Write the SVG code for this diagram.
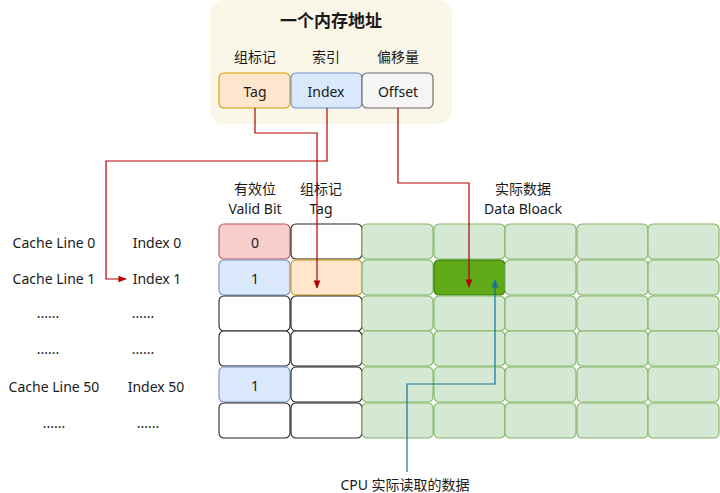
<svg xmlns="http://www.w3.org/2000/svg" width="720" height="493" viewBox="0 0 720 493">
<defs>
<style>
text{font-family:"Noto Sans","Noto Sans CJK SC",sans-serif;font-size:14px;fill:#1a1a1a;text-anchor:middle;dominant-baseline:central}
.t{font-weight:bold;font-size:17px}
.w{fill:#fff;stroke:#222;stroke-width:1.1}
.g{fill:#d5e8d4;stroke:#82b366;stroke-width:1.1}
.r{fill:none;stroke:#b20000;stroke-width:1.2}
.b{fill:none;stroke:#10739e;stroke-width:1.2}
</style>
<marker id="ar" viewBox="0 0 10 10" refX="9" refY="5" markerWidth="7" markerHeight="7" orient="auto"><path d="M0,1 L10,5 L0,9 Z" fill="#b20000"/></marker>
<marker id="ab" viewBox="0 0 10 10" refX="9" refY="5" markerWidth="7" markerHeight="7" orient="auto"><path d="M0,1 L10,5 L0,9 Z" fill="#10739e"/></marker>
</defs>
<rect width="720" height="493" fill="#fff"/>
<g id="address">
<rect x="210" y="0" width="242" height="124" rx="14" fill="#faf6e8"/>
<text class="t" x="331" y="20">一个内存地址</text>
<text x="255" y="56">组标记</text>
<text x="326" y="56">索引</text>
<text x="398" y="56">偏移量</text>
</g>
<g id="tag"><rect x="219" y="73" width="71" height="35" rx="5" fill="#ffe6cc" stroke="#d79b00" stroke-width="1.1"/><text x="255" y="91">Tag</text></g>
<g id="index"><rect x="291" y="73" width="71" height="35" rx="5" fill="#dae8fc" stroke="#6c8ebf" stroke-width="1.1"/><text x="326" y="91">Index</text></g>
<g id="offset"><rect x="362" y="73" width="71" height="35" rx="5" fill="#f5f5f5" stroke="#666" stroke-width="1.1"/><text x="398" y="91">Offset</text></g>
<g id="headers">
<text x="255" y="188">有效位</text><text x="255" y="208">Valid Bit</text>
<text x="321" y="188">组标记</text><text x="321" y="208">Tag</text>
<text x="523" y="188">实际数据</text><text x="523" y="208">Data Bloack</text>
</g>
<g id="row-labels">
<text x="54" y="242">Cache Line 0</text><text x="157" y="242">Index 0</text>
<text x="54" y="278">Cache Line 1</text><text x="157" y="278">Index 1</text>
<text x="48" y="312">......</text><text x="143" y="312">......</text>
<text x="48" y="348">......</text><text x="143" y="348">......</text>
<text x="54" y="386">Cache Line 50</text><text x="156" y="386">Index 50</text>
<text x="54" y="422">......</text><text x="148" y="422">......</text>
</g>
<g id="valid-col">
<rect x="219" y="224" width="71" height="35" rx="5" fill="#f8cecc" stroke="#b85450" stroke-width="1.1"/><text x="255" y="242">0</text>
<rect x="219" y="260" width="71" height="35" rx="5" fill="#dae8fc" stroke="#6c8ebf" stroke-width="1.1"/><text x="255" y="278">1</text>
<rect class="w" x="219" y="296" width="71" height="35" rx="5"/>
<rect class="w" x="219" y="331" width="71" height="35" rx="5"/>
<rect x="219" y="367" width="71" height="35" rx="5" fill="#dae8fc" stroke="#6c8ebf" stroke-width="1.1"/><text x="255" y="385">1</text>
<rect class="w" x="219" y="403" width="71" height="35" rx="5"/>
</g>
<g id="tag-col">
<rect class="w" x="291" y="224" width="71" height="35" rx="5"/>
<rect x="291" y="260" width="71" height="35" rx="5" fill="#ffe6cc" stroke="#d79b00" stroke-width="1.1"/>
<rect class="w" x="291" y="296" width="71" height="35" rx="5"/>
<rect class="w" x="291" y="331" width="71" height="35" rx="5"/>
<rect class="w" x="291" y="367" width="71" height="35" rx="5"/>
<rect class="w" x="291" y="403" width="71" height="35" rx="5"/>
</g>
<g id="data-blocks">
<rect class="g" x="362" y="224" width="71" height="35" rx="5"/><rect class="g" x="434" y="224" width="71" height="35" rx="5"/><rect class="g" x="505" y="224" width="71" height="35" rx="5"/><rect class="g" x="577" y="224" width="71" height="35" rx="5"/><rect class="g" x="648" y="224" width="71" height="35" rx="5"/>
<rect class="g" x="362" y="260" width="71" height="35" rx="5"/><rect x="434" y="260" width="71" height="35" rx="5" fill="#60a917" stroke="#2d7600" stroke-width="1.1"/><rect class="g" x="505" y="260" width="71" height="35" rx="5"/><rect class="g" x="577" y="260" width="71" height="35" rx="5"/><rect class="g" x="648" y="260" width="71" height="35" rx="5"/>
<rect class="g" x="362" y="296" width="71" height="35" rx="5"/><rect class="g" x="434" y="296" width="71" height="35" rx="5"/><rect class="g" x="505" y="296" width="71" height="35" rx="5"/><rect class="g" x="577" y="296" width="71" height="35" rx="5"/><rect class="g" x="648" y="296" width="71" height="35" rx="5"/>
<rect class="g" x="362" y="331" width="71" height="35" rx="5"/><rect class="g" x="434" y="331" width="71" height="35" rx="5"/><rect class="g" x="505" y="331" width="71" height="35" rx="5"/><rect class="g" x="577" y="331" width="71" height="35" rx="5"/><rect class="g" x="648" y="331" width="71" height="35" rx="5"/>
<rect class="g" x="362" y="367" width="71" height="35" rx="5"/><rect class="g" x="434" y="367" width="71" height="35" rx="5"/><rect class="g" x="505" y="367" width="71" height="35" rx="5"/><rect class="g" x="577" y="367" width="71" height="35" rx="5"/><rect class="g" x="648" y="367" width="71" height="35" rx="5"/>
<rect class="g" x="362" y="403" width="71" height="35" rx="5"/><rect class="g" x="434" y="403" width="71" height="35" rx="5"/><rect class="g" x="505" y="403" width="71" height="35" rx="5"/><rect class="g" x="577" y="403" width="71" height="35" rx="5"/><rect class="g" x="648" y="403" width="71" height="35" rx="5"/>
</g>
<g id="cpu-label"><text x="405" y="484">CPU 实际读取的数据</text></g>
<g id="connectors">
<path class="r" d="M255,108 V133 H317 V288" marker-end="url(#ar)"/>
<path class="r" d="M327,108 V161 H106 V279 H126" marker-end="url(#ar)"/>
<path class="r" d="M398,108 V183 H469 V287" marker-end="url(#ar)"/>
<path class="b" d="M407,472 V384 H495 V280" marker-end="url(#ab)"/>
</g>
</svg>
